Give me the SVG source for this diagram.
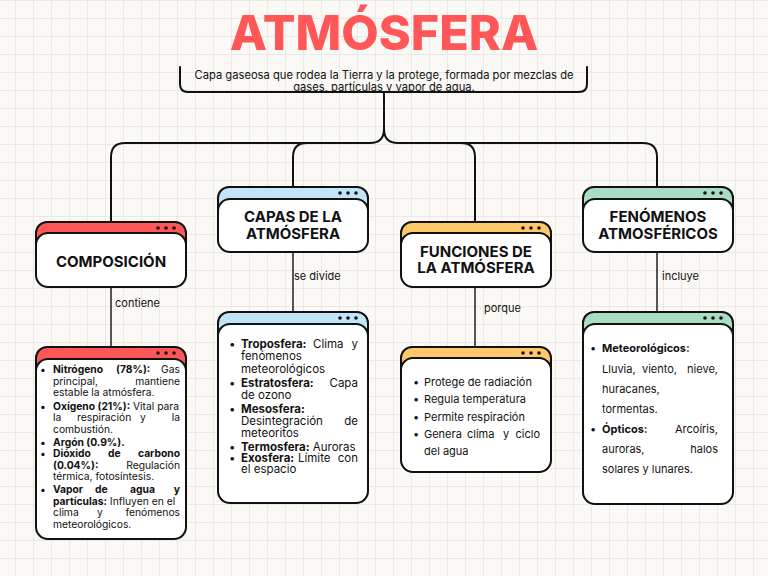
<svg xmlns="http://www.w3.org/2000/svg" width="768" height="576" viewBox="0 0 768 576">
<defs>
<pattern id="grid" x="15" y="0" width="18" height="18" patternUnits="userSpaceOnUse">
<path d="M0 0.5 H18 M0.5 0 V18" fill="none" stroke="#ECE9E2" stroke-width="1"/>
</pattern>
<style>
.t{font-family:Inter,"Liberation Sans",sans-serif;fill:#111}
.title{font-family:Inter,"Liberation Sans",sans-serif;font-weight:800;font-size:48.5px;fill:#FF5757}
.h{font-family:Inter,"Liberation Sans",sans-serif;font-weight:700;font-size:15px;fill:#111;text-anchor:middle}
.lbl{font-family:Inter,"Liberation Sans",sans-serif;font-size:11px;fill:#111}
.s10{font-size:10.3px}
.s11{font-size:11px}
.s115{font-size:11.5px}
.b{font-weight:700}
.e{text-anchor:end}
.card{fill:#fff;stroke:#111;stroke-width:2}
.hd{stroke:#111;stroke-width:2}
.red{fill:#FF5757}.blue{fill:#C2E4F8}.orange{fill:#FFC86B}.green{fill:#A9DDC1}
.conn{fill:none;stroke:#111;stroke-width:2;stroke-linecap:round}
.thin{fill:none;stroke:#111;stroke-width:1.4}
.dot{fill:#111}
</style>
</defs>
<rect width="768" height="576" fill="#FAF9F5"/>
<rect width="768" height="576" fill="url(#grid)"/>

<g id="title">
<text class="title" x="384" y="50" text-anchor="middle">ATMÓSFERA</text>
</g>

<g id="description">
<path class="conn" d="M180 67 V84 Q180 92 188 92 H579 Q587 92 587 84 V67"/>
<text class="t" font-size="11.2" x="384" y="79" text-anchor="middle">Capa gaseosa que rodea la Tierra y la protege, formada por mezclas de</text>
<text class="t" font-size="11.2" x="384" y="91" text-anchor="middle">gases, partículas y vapor de agua.</text>
</g>

<g id="connectors">
<path class="conn" d="M384 92 V129 Q384 143 370 143 H125 Q111 143 111 157 V222"/>
<path class="conn" d="M370 143 H307 Q293 143 293 157 V187"/>
<path class="conn" d="M384 129 Q384 143 398 143 H461 Q475 143 475 157 V222"/>
<path class="conn" d="M461 143 H643 Q657 143 657 157 V187"/>
<line class="thin" x1="111" y1="287" x2="111" y2="347"/>
<line class="thin" x1="293" y1="252" x2="293" y2="312"/>
<line class="thin" x1="475" y1="287" x2="475" y2="347"/>
<line class="thin" x1="657" y1="252" x2="657" y2="312"/>
<text class="lbl" x="115" y="307">contiene</text>
<text class="lbl" x="294" y="280">se divide</text>
<text class="lbl" x="484" y="312">porque</text>
<text class="lbl" x="662" y="280">incluye</text>
</g>

<g id="composicion">
<rect class="hd red" x="36" y="222" width="150" height="40" rx="11"/>
<circle class="dot" cx="158" cy="228" r="1.8"/><circle class="dot" cx="166" cy="228" r="1.8"/><circle class="dot" cx="174" cy="228" r="1.8"/>
<rect class="card" x="36" y="233" width="150" height="54" rx="12"/>
<text class="h" x="111" y="267">COMPOSICIÓN</text>
</g>

<g id="capas">
<rect class="hd blue" x="218" y="187" width="150" height="40" rx="11"/>
<circle class="dot" cx="340" cy="193" r="1.8"/><circle class="dot" cx="348" cy="193" r="1.8"/><circle class="dot" cx="356" cy="193" r="1.8"/>
<rect class="card" x="218" y="199" width="150" height="53" rx="12"/>
<text class="h" x="293" y="222">CAPAS DE LA</text>
<text class="h" x="293" y="239">ATMÓSFERA</text>
</g>

<g id="funciones">
<rect class="hd orange" x="401" y="222" width="150" height="40" rx="11"/>
<circle class="dot" cx="523" cy="228" r="1.8"/><circle class="dot" cx="531" cy="228" r="1.8"/><circle class="dot" cx="539" cy="228" r="1.8"/>
<rect class="card" x="401" y="233" width="150" height="54" rx="12"/>
<text class="h" x="476" y="257">FUNCIONES DE</text>
<text class="h" x="476" y="273">LA ATMÓSFERA</text>
</g>

<g id="fenomenos">
<rect class="hd green" x="583" y="187" width="150" height="40" rx="11"/>
<circle class="dot" cx="705" cy="193" r="1.8"/><circle class="dot" cx="713" cy="193" r="1.8"/><circle class="dot" cx="721" cy="193" r="1.8"/>
<rect class="card" x="583" y="199" width="150" height="53" rx="12"/>
<text class="h" x="658" y="222">FENÓMENOS</text>
<text class="h" x="658" y="239">ATMOSFÉRICOS</text>
</g>

<g id="composicion-detalle">
<rect class="hd red" x="36" y="347" width="150" height="40" rx="11"/>
<circle class="dot" cx="158" cy="353" r="1.8"/><circle class="dot" cx="166" cy="353" r="1.8"/><circle class="dot" cx="174" cy="353" r="1.8"/>
<rect class="card" x="36" y="359" width="150" height="180" rx="12"/>
<g class="t s10">
<text x="40" y="373">•</text><text x="40" y="410">•</text><text x="40" y="446">•</text><text x="40" y="457">•</text><text x="40" y="493">•</text>
<text class="b" x="53" y="373">Nitrógeno</text><text class="b" x="116" y="373">(78%):</text><text class="e" x="180" y="373">Gas</text>
<text x="53" y="385">principal,</text><text class="e" x="180" y="385">mantiene</text>
<text x="53" y="396">estable la atmósfera.</text>
<text x="53" y="410"><tspan class="b">Oxígeno (21%):</tspan> Vital para</text>
<text x="53" y="421">la</text><text x="77" y="421">respiración</text><text x="140" y="421">y</text><text class="e" x="180" y="421">la</text>
<text x="53" y="433">combustión.</text>
<text class="b" x="53" y="446">Argón (0.9%).</text>
<text class="b" x="53" y="457">Dióxido</text><text class="b" x="108" y="457">de</text><text class="b e" x="180" y="457">carbono</text>
<text class="b" x="53" y="469">(0.04%):</text><text class="e" x="180" y="469">Regulación</text>
<text x="53" y="480">térmica, fotosíntesis.</text>
<text class="b" x="53" y="493">Vapor</text><text class="b" x="95" y="493">de</text><text class="b" x="130" y="493">agua</text><text class="b e" x="180" y="493">y</text>
<text x="53" y="505"><tspan class="b">partículas:</tspan> Influyen en el</text>
<text x="53" y="516">clima</text><text x="97" y="516">y</text><text class="e" x="180" y="516">fenómenos</text>
<text x="53" y="528">meteorológicos.</text>
</g>
</g>

<g id="capas-detalle">
<rect class="hd blue" x="218" y="312" width="150" height="40" rx="11"/>
<circle class="dot" cx="340" cy="318" r="1.8"/><circle class="dot" cx="348" cy="318" r="1.8"/><circle class="dot" cx="356" cy="318" r="1.8"/>
<rect class="card" x="218" y="324" width="150" height="179" rx="12"/>
<g class="t s115">
<text x="229" y="348">•</text><text x="229" y="387">•</text><text x="229" y="413">•</text><text x="229" y="451">•</text><text x="229" y="462">•</text>
<text class="b" x="241" y="348">Troposfera:</text><text x="313" y="348">Clima</text><text class="e" x="358" y="348">y</text>
<text x="241" y="360">fenómenos</text>
<text x="241" y="373">meteorológicos</text>
<text class="b" x="241" y="387">Estratosfera:</text><text class="e" x="358" y="387">Capa</text>
<text x="241" y="399">de ozono</text>
<text class="b" x="241" y="413">Mesosfera:</text>
<text x="241" y="425">Desintegración</text><text class="e" x="358" y="425">de</text>
<text x="241" y="437">meteoritos</text>
<text x="241" y="451"><tspan class="b">Termosfera:</tspan> Auroras</text>
<text class="b" x="241" y="462">Exosfera:</text><text x="298" y="462">Límite</text><text class="e" x="358" y="462">con</text>
<text x="241" y="473">el espacio</text>
</g>
</g>

<g id="funciones-detalle">
<rect class="hd orange" x="401" y="347" width="150" height="40" rx="11"/>
<circle class="dot" cx="523" cy="353" r="1.8"/><circle class="dot" cx="531" cy="353" r="1.8"/><circle class="dot" cx="539" cy="353" r="1.8"/>
<rect class="card" x="401" y="358" width="150" height="114" rx="12"/>
<g class="t s11">
<text x="413" y="386">•</text><text x="413" y="403">•</text><text x="413" y="421">•</text><text x="413" y="438">•</text>
<text x="424" y="386">Protege de radiación</text>
<text x="424" y="403">Regula temperatura</text>
<text x="424" y="421">Permite respiración</text>
<text x="424" y="438">Genera</text><text x="467" y="438">clima</text><text x="503" y="438">y</text><text class="e" x="540" y="438">ciclo</text>
<text x="424" y="455">del agua</text>
</g>
</g>

<g id="fenomenos-detalle">
<rect class="hd green" x="583" y="312" width="150" height="40" rx="11"/>
<circle class="dot" cx="705" cy="318" r="1.8"/><circle class="dot" cx="713" cy="318" r="1.8"/><circle class="dot" cx="721" cy="318" r="1.8"/>
<rect class="card" x="583" y="324" width="150" height="180" rx="12"/>
<g class="t s11">
<text x="590" y="352">•</text><text x="590" y="433">•</text>
<text class="b" x="602" y="352">Meteorológicos:</text>
<text x="602" y="373">Lluvia,</text><text x="642" y="373">viento,</text><text class="e" x="718" y="373">nieve,</text>
<text x="602" y="393">huracanes,</text>
<text x="602" y="413">tormentas.</text>
<text class="b" x="602" y="433">Ópticos:</text><text class="e" x="718" y="433">Arcoíris,</text>
<text x="602" y="453">auroras,</text><text class="e" x="718" y="453">halos</text>
<text x="602" y="473">solares y lunares.</text>
</g>
</g>
</svg>
